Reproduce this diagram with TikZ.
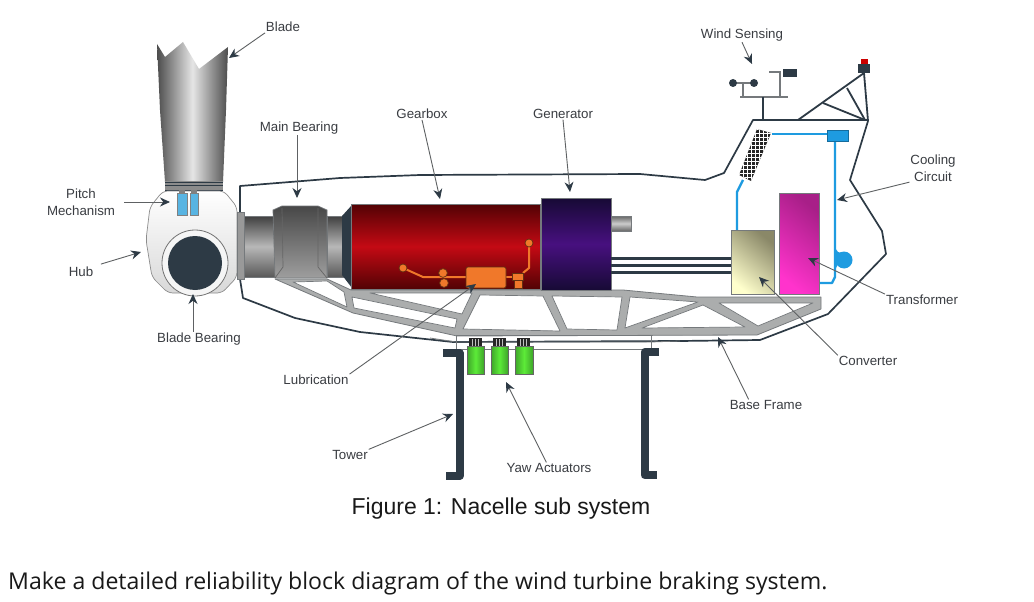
\documentclass[tikz,border=0pt]{standalone}
\usepackage{fontspec}
\setmainfont{Liberation Sans}
\newfontfamily\questionfont{Open Sans}
\usetikzlibrary{arrows.meta}

\definecolor{slate}{HTML}{2D3A45}
\definecolor{frameGray}{HTML}{ABADAD}
\definecolor{frameEdge}{HTML}{75797C}
\definecolor{lubeOrange}{HTML}{F0782A}
\definecolor{coolBlue}{HTML}{1E9BE0}
\definecolor{pitchBlue}{HTML}{58B4E2}
\definecolor{labelText}{HTML}{3A3D42}
\definecolor{gearDark}{HTML}{520204}
\definecolor{gearMid}{HTML}{C40A14}
\definecolor{genDark}{HTML}{170A35}
\definecolor{genMid}{HTML}{47107F}
\definecolor{convDark}{HTML}{8A8868}
\definecolor{convLight}{HTML}{FFFFCC}
\definecolor{transDark}{HTML}{A81F88}
\definecolor{transLight}{HTML}{FF33CC}
\definecolor{yawDark}{HTML}{3FA52A}
\definecolor{yawMid}{HTML}{5CEB38}

\tikzset{
  lbl/.style={font=\fontsize{13.3}{16.5}\selectfont, text=labelText, align=center, inner sep=1pt, outer sep=0pt},
  callout/.style={draw=frameEdge!80!black, line width=.9pt, -{Stealth[length=10pt,width=9pt,color=slate]}},
  shell/.style={draw=slate, line width=1.7pt, line join=round},
  truss/.style={fill=white, draw=frameEdge, line width=.7pt, line join=round},
  steel/.style={draw=frameEdge, line width=.5pt, top color=black!75, bottom color=black!75, middle color=black!25},
  tower/.style={draw=slate, line width=8pt, line join=round},
  yaw/.style={draw=black!60, line width=.7pt, left color=yawDark, right color=yawDark, middle color=yawMid},
  oil/.style={draw=lubeOrange, line width=2pt, line join=round},
  oilpart/.style={fill=lubeOrange, draw=black!60!lubeOrange, line width=.7pt},
  coolant/.style={draw=coolBlue, line width=2.4pt, line join=round},
  mast/.style={draw=slate, line width=1.8pt}
}

\begin{document}
\begin{tikzpicture}[x=1pt,y=-1pt]
  \useasboundingbox[fill=white] (0,0) rectangle (1034,602);

  % nacelle cover
  \draw[shell] (868,121) -- (850,180) -- (882,231) -- (886,254) -- (828,314) -- (760,340)
    -- (680,341) -- (453,342) -- (360,332) -- (295,318) -- (243,298) -- (240,279);
  \draw[shell] (240,212) -- (240,186) -- (340,178) -- (420,175) -- (640,174) -- (705,180)
    -- (724,173) -- (753,120) -- (868,120);

  % blade and hub
  \shade[left color=black!70, right color=black!70, middle color=black!10]
    (157,44) -- (165,57) -- (183,42) -- (199,69) -- (228,47) -- (226,110) -- (223,182)
    -- (165,182) -- (160,110) -- cycle;
  \fill[black!45] (165,181) rectangle (223,190);
  \draw[slate, line width=1pt] (165,182) -- (223,182);
  \draw[slate, line width=1pt] (165,185) -- (223,185);
  \draw[slate, line width=1pt] (165,190) -- (223,190);
  \draw[black!45, line width=.7pt, rounded corners=5pt, top color=white, bottom color=black!15]
    (163,191) -- (224,191) -- (237,207) -- (237,277) -- (222,293) -- (168,293) -- (152,277)
    -- (146,240) -- (150,207) -- cycle;
  \fill[black!50] (179,190) rectangle (185,193);
  \fill[black!50] (191,190) rectangle (197,193);
  \draw[fill=pitchBlue, draw=black!50, line width=.5pt] (177,193) rectangle (187,215);
  \draw[fill=pitchBlue, draw=black!50, line width=.5pt] (190,193) rectangle (198,215);
  \draw[fill=black!4, draw=black!55, line width=.8pt] (195,263) circle (33);
  \fill[slate] (195,263) circle (27);

  % main shaft
  \draw[steel, top color=black!75, bottom color=black!65, middle color=black!28] (244,216) rectangle (276,277);
  \draw[steel, top color=black!75, bottom color=black!65, middle color=black!28] (327,216) rectangle (343,277);
  \draw[fill=black!40, draw=frameEdge, line width=.5pt] (237,212) rectangle (244,279);
  \draw[frameEdge, line width=.7pt, top color=black!72, bottom color=black!38]
    (273,210) -- (282,206) -- (318,206) -- (327,210) -- (327,278) -- (275,278) -- cycle;
  \draw[black!60, line width=.7pt] (282,208) -- (283,267) -- (275,278);
  \draw[black!60, line width=.7pt] (318,208) -- (318,267) -- (327,278);
  \fill[slate] (342,216) -- (352,205) -- (352,288) -- (342,275) -- cycle;

  % base frame
  \draw[fill=frameGray, draw=frameEdge, line width=.8pt, line join=round]
    (275,279) -- (327,279) -- (351,290) -- (623,290) -- (697,297) -- (821,297) -- (821,309)
    -- (757,335) -- (457,336) -- (353,313) -- cycle;
  \draw[truss] (293,282) -- (327,281) -- (344,292) -- (347,307) -- cycle;
  \draw[truss] (352,297) -- (457,319) -- (455,328) -- (354,308) -- cycle;
  \draw[truss] (370,293) -- (472,293) -- (462,314) -- cycle;
  \draw[truss] (480,295) -- (543,296) -- (560,331) -- (463,329) -- cycle;
  \draw[truss] (552,296) -- (622,297) -- (617,330) -- (567,329) -- cycle;
  \draw[truss] (630,297) -- (698,302) -- (625,328) -- cycle;
  \draw[truss] (642,328) -- (703,305) -- (745,327) -- cycle;
  \draw[truss] (719,303) -- (813,303) -- (758,326) -- cycle;

  % gearbox and generator
  \draw[draw=frameEdge, line width=.6pt, top color=gearDark, bottom color=gearDark, middle color=gearMid]
    (351,204) rectangle (540,289);
  \draw[draw=frameEdge, line width=.6pt, top color=genDark, bottom color=genDark, middle color=genMid]
    (541,198) rectangle (611,290);
  \draw[steel, top color=black!60, bottom color=black!60, middle color=black!20] (611,216) rectangle (631,231);
  \foreach \y in {258,265,272}
    \draw[slate, line width=3pt] (611,\y) -- (731,\y);

  % lubrication
  \draw[oil] (403,268) -- (423,277) -- (467,277);
  \draw[oil] (506,277) -- (512,277);
  \draw[oil] (523,273) -- (529,268) -- (529,243);
  \draw[oilpart] (403,268) circle (4);
  \draw[oilpart] (443,273) circle (4.4);
  \draw[oilpart] (444,283) circle (4.4);
  \draw[oilpart] (529,243) circle (4);
  \draw[oilpart, rounded corners=2pt] (466,267) rectangle (506,288);
  \draw[oilpart] (512,273) rectangle (523,280);
  \draw[oilpart] (514,280) rectangle (522,288);

  % yaw ring
  \draw[frameEdge, line width=.8pt] (456,335) rectangle (651,349);
  \draw[frameEdge, line width=.8pt] (430,338) -- (456,342) -- (651,342) -- (680,341);

  % yaw actuators
  \foreach \x/\w in {467/17,491/17,515/18}{
    \fill[black!85] (\x+2,338) rectangle (\x+15,346);
    \draw[black!25, line width=.8pt] (\x+5.5,339) -- (\x+5.5,346);
    \draw[black!25, line width=.8pt] (\x+8.5,339) -- (\x+8.5,346);
    \draw[black!25, line width=.8pt] (\x+11.5,339) -- (\x+11.5,346);
    \draw[yaw] (\x,346) rectangle (\x+\w,374);
  }

  % tower
  \draw[tower] (443,353) -- (459.5,353) -- (459.5,476) -- (446,476);
  \draw[tower] (659,352) -- (644.5,352) -- (644.5,475) -- (657,475);

  % cooling circuit
  \draw[coolant] (772,134) -- (827,134);
  \draw[coolant] (835,141) -- (835,277) -- (832,283) -- (820,283);
  \draw[coolant] (743,180) -- (737,192) -- (737,230);
  \fill[coolBlue] (844,260) circle (8.5);
  \fill[coolBlue] (835,248) -- (838,252) -- (844,254) -- (836,268) -- cycle;
  \draw[fill=coolBlue, draw=coolBlue!70!black, line width=.5pt] (827,130) rectangle (848,141);
  \begin{scope}
    \clip (757,129) -- (771,133) -- (751,181) -- (739,175) -- cycle;
    \fill[black!85] (735,125) rectangle (775,185);
    \foreach \k in {0,...,10}
      \draw[white, line width=.45pt] (735+4*\k,125) -- (735+4*\k,185);
    \foreach \k in {0,...,15}
      \draw[white, line width=.45pt] (735,125+4*\k) -- (775,125+4*\k);
  \end{scope}

  % converter and transformer
  \draw[draw=frameEdge, line width=.7pt, shading=axis, left color=convDark, right color=convLight, shading angle=-40]
    (731,230) rectangle (774,294);
  \draw[draw=frameEdge, line width=.7pt, shading=axis, left color=transDark, right color=transLight, shading angle=-40]
    (779,193) rectangle (819,294);

  % wind sensing
  \draw[frameEdge, line width=1.1pt] (733,83) -- (754,83);
  \fill[slate] (733,83) circle (4);
  \fill[slate] (754,83) circle (4);
  \draw[frameEdge, line width=1.1pt] (743,83) -- (743,97);
  \draw[frameEdge, line width=1.1pt] (740,97) -- (788,97);
  \draw[frameEdge, line width=1.1pt] (780,97) -- (780,72) -- (769,72);
  \fill[slate] (783,69) rectangle (797,77);
  \draw[slate, line width=2pt] (763,97) -- (763,120);

  % mast
  \draw[mast] (798,120) -- (864,73) -- (868,121);
  \draw[mast] (847,88) -- (865,120);
  \draw[mast] (823,103) -- (865,120);
  \fill[red!80!black] (861,59) rectangle (868,64);
  \fill[slate] (858,64) rectangle (870,73);

  % tips of the callouts
  \coordinate (bladeTip) at (229,58);
  \coordinate (windTip) at (752,64);
  \coordinate (mainTip) at (297,198);
  \coordinate (gearTip) at (440,199);
  \coordinate (genTip) at (570,192);
  \coordinate (pitchTip) at (170,202);
  \coordinate (hubTip) at (141,252);
  \coordinate (bearTip) at (193,294);
  \coordinate (coolTip) at (837,200);
  \coordinate (transTip) at (808,258);
  \coordinate (convTip) at (759,277);
  \coordinate (baseTip) at (718,337);
  \coordinate (lubeTip) at (476,284);
  \coordinate (towerTip) at (453,414);
  \coordinate (yawTip) at (506,382);

  % labels
  \node[lbl] (bladeLbl) at (283,27) {Blade};
  \node[lbl] (windLbl) at (742,35) {Wind Sensing};
  \node[lbl] (mainLbl) at (299,128) {Main Bearing};
  \node[lbl] (gearLbl) at (422,114) {Gearbox};
  \node[lbl] (genLbl) at (563,114) {Generator};
  \node[lbl] (coolLbl) at (933,168) {Cooling\\Circuit};
  \node[lbl] (pitchLbl) at (81,202) {Pitch\\Mechanism};
  \node[lbl] (hubLbl) at (81,272) {Hub};
  \node[lbl] (bearLbl) at (199,339) {Blade Bearing};
  \node[lbl] (transLbl) at (922,300) {Transformer};
  \node[lbl] (convLbl) at (868,361) {Converter};
  \node[lbl] (baseLbl) at (766,405) {Base Frame};
  \node[lbl] (lubeLbl) at (316,380) {Lubrication};
  \node[lbl] (towerLbl) at (350,455) {Tower};
  \node[lbl] (yawLbl) at (549,468) {Yaw Actuators};

  % callouts
  \draw[callout] (bladeLbl.south west) -- (bladeTip);
  \draw[callout] (windLbl.south) -- (windTip);
  \draw[callout] (mainLbl.south -| mainTip) -- (mainTip);
  \draw[callout] (gearLbl.south) -- (gearTip);
  \draw[callout] (genLbl.south) -- (genTip);
  \draw[callout, shorten <=8pt] (pitchLbl.east) -- (pitchTip);
  \draw[callout, shorten <=7pt] (hubLbl.north east) -- (hubTip);
  \draw[callout] (bearLbl.north -| bearTip) -- (bearTip);
  \draw[callout] (coolLbl.south west) -- (coolTip);
  \draw[callout] (transLbl.north west) -- (transTip);
  \draw[callout] (convLbl.north west) -- (convTip);
  \draw[callout] (baseLbl.162) -- (baseTip);
  \draw[callout] (lubeLbl.north east) -- (lubeTip);
  \draw[callout] (towerLbl.north east) -- (towerTip);
  \draw[callout] (yawLbl.115) -- (yawTip);

  % caption and question
  \node[font=\fontsize{23}{26}\selectfont, text=black!90, inner sep=0pt] (captionTxt) at (501,509) {Figure 1: Nacelle sub system};
  \node[font=\fontsize{23.1}{26}\selectfont\questionfont, text=black!90, inner sep=0pt, anchor=west] (questionTxt) at (8,583) {Make a detailed reliability block diagram of the wind turbine braking system.};
\end{tikzpicture}
\end{document}
